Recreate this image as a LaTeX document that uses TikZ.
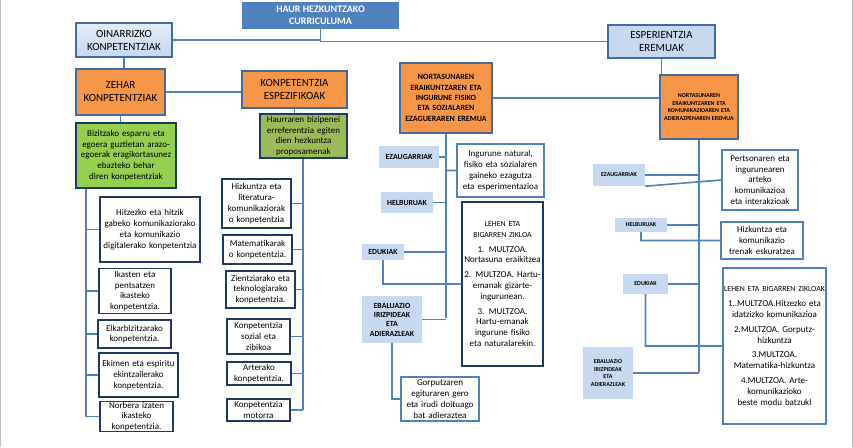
\documentclass[tikz,border=0pt]{standalone}
\usepackage{fontspec}
\setmainfont{Carlito}
\definecolor{lineblue}{HTML}{4F81BD}
\definecolor{darkbd}{HTML}{1F3864}
\definecolor{orng}{HTML}{F79646}
\definecolor{grn}{HTML}{92D050}
\definecolor{olive}{HTML}{9BBB59}
\definecolor{lblue}{HTML}{C6D9F1}
\tikzset{
  box/.style={draw=darkbd, line width=1.3pt, fill=white, align=center, inner sep=0.5pt,
    execute at begin node={\hyphenpenalty=10000\tolerance=9999},
    font=\fontsize{9}{10.8}\selectfont},
  head/.style={box, draw=lineblue!70!darkbd, font=\fontsize{11}{13}\selectfont},
  orangebox/.style={head, fill=orng},
  bluebox/.style={head, fill=lblue},
  greenbox/.style={box, fill=grn},
  lbl/.style={fill=lblue, align=center, inner sep=1pt, font=\bfseries\fontsize{7.8}{9.3}\selectfont},
  tiny/.style={font=\bfseries\fontsize{6}{7.6}\selectfont},
  wbox/.style={box, draw=lineblue},
  conn/.style={draw=lineblue, line width=1.6pt},
}
\begin{document}
\begin{tikzpicture}[x=1pt,y=-1pt]
  \useasboundingbox (0,0) rectangle (853,447);
  \draw[gray!50, line width=1pt] (0.5,0) -- (0.5,447) (852,0) -- (852,447);
  % top row
  \node[head, fill=lineblue, draw=lineblue, text=white, font=\bfseries\fontsize{10}{12}\selectfont, minimum width=155, minimum height=25] (title) at (320.5,15.5) {HAUR HEZKUNTZAKO\\CURRICULUMA};
  \node[bluebox, top color=lblue!50, bottom color=lblue, minimum width=96, minimum height=34] (oin) at (124,40) {OINARRIZKO\\KONPETENTZIAK};
  \node[bluebox, minimum width=107, minimum height=33] (esp) at (661.5,41.5) {ESPERIENTZIA\\EREMUAK};
  % left side
  \node[orangebox, minimum width=89, minimum height=46] (zehar) at (120.5,92) {ZEHAR\\KONPETENTZIAK};
  \node[orangebox, minimum width=105, minimum height=37] (konesp) at (294.5,89.5) {KONPETENTZIA\\ESPEZIFIKOAK};
  \node[greenbox, text width=99, minimum height=65] (bizi) at (126,155.5) {Bizitzako esparru eta egoera guztietan arazo-egoerak eragikortasunez ebazteko behar diren konpetentziak};
  \node[box, fill=olive, text width=86, minimum height=44] (haur) at (303.5,136) {Haurraren bizipenei erreferentzia egiten dien hezkuntza proposamenak};
  \node[box, text width=99, minimum height=65] (hitz) at (150,229.5) {Hitzezko eta hitzik gabeko komunikaziorako eta komunikazio digitalerako konpetentzia};
  \node[box, text width=71, minimum height=45] (ikas) at (135,291) {Ikasten eta pentsatzen ikasteko konpetentzia.};
  \node[box, text width=72, minimum height=28] (elk) at (134.5,334) {Elkarbizitzarako konpetentzia.};
  \node[box, text width=78, minimum height=44] (ekim) at (138.5,375) {Ekimen eta espiritu ekintzailerako konpetentzia.};
  \node[box, text width=72, minimum height=29] (norb) at (136.5,416.5) {Norbera izaten ikasteko konpetentzia.};
  \node[box, text width=68, minimum height=49] (hizk) at (256.5,203.5) {Hizkuntza eta literatura-\\komunikaziorak\\o konpetentzia};
  \node[box, text width=68, minimum height=29] (mate) at (257.5,249.5) {Matematikarak\\o konpetentzia.};
  \node[box, text width=68, minimum height=37] (zien) at (260.5,289.5) {Zientziarako eta teknologiarako konpetentzia.};
  \node[box, text width=62, minimum height=35] (konsoz) at (258.5,336.5) {Konpetentzia sozial eta zibikoa};
  \node[box, text width=63, minimum height=23] (arte) at (259,373.5) {Arterako konpetentzia.};
  \node[box, text width=62, minimum height=22] (motor) at (258.5,410) {Konpetentzia motorra};
  % middle
  \node[orangebox, font=\bfseries\fontsize{8}{10.3}\selectfont, text width=91, minimum height=70] (nort1) at (446,98) {NORTASUNAREN ERAIKUNTZAREN ETA INGURUNE FISIKO ETA SOZIALAREN EZAGUERAREN EREMUA};
  \node[lbl, minimum width=60, minimum height=22] (ezaug1) at (409,157) {EZAUGARRIAK};
  \node[wbox, text width=86, minimum height=53] (ing) at (500.5,170.5) {Ingurune natural, fisiko eta sozialaren gaineko ezagutza eta esperimentazioa};
  \node[lbl, minimum width=52, minimum height=21] (helb1) at (407,202.5) {HELBURUAK};
  \node[box, text width=80, minimum height=164] (lehen1) at (502.5,284) {{\fontsize{7.8}{10}\selectfont LEHEN ETA BIGARREN ZIKLOA}\\[4pt] 1. MULTZOA. Nortasuna eraikitzea\\[4pt] 2. MULTZOA. Hartu-emanak gizarte-\\ingurunean.\\[4pt] 3. MULTZOA. Hartu-emanak ingurune fisiko eta naturalarekin.};
  \node[lbl, minimum width=42, minimum height=16] (eduk1) at (383,252) {EDUKIAK};
  \node[lbl, minimum width=60, minimum height=47] (ebal1) at (392,319.5) {EBALUAZIO\\IRIZPIDEAK\\ETA\\ADIERAZLEAK};
  \node[wbox, text width=77, minimum height=44] (gorp) at (440,399) {Gorputzaren egituraren gero eta irudi doituago bat adieraztea};
  % right
  \node[orangebox, tiny, text width=77, minimum height=64] (nort2) at (699,107) {NORTASUNAREN ERAIKUNTZAREN ETA KOMUNIKAZIOAREN ETA ADIERAZPENAREN EREMUA};
  \node[lbl, tiny, minimum width=52, minimum height=22] (ezaug2) at (619,175) {EZAUGARRIAK};
  \node[wbox, text width=75, minimum height=60] (pert) at (760,180) {Pertsonaren eta ingurunearen arteko komunikazioa eta interakzioak};
  \node[lbl, tiny, minimum width=52, minimum height=14] (helb2) at (641,225) {HELBURUAK};
  \node[wbox, text width=81, minimum height=37] (hizk2) at (762,240.5) {Hizkuntza eta komunikazio trenak eskuratzea};
  \node[lbl, tiny, minimum width=45, minimum height=20] (eduk2) at (645.5,284) {EDUKIAK};
  \node[wbox, text width=102, minimum height=156] (lehen2) at (774.5,346) {{\fontsize{7.8}{10}\selectfont LEHEN ETA BIGARREN ZIKLOAK}\\[4pt] 1..MULTZOA.Hitzezko eta idatzizko komunikazioa\\[4pt] 2.MULTZOA. Gorputz-\\hizkuntza\\[4pt] 3.MULTZOA. Matematika-hizkuntza\\[4pt] 4.MULTZOA. Arte-\\komunikazioko beste modu batzukl};
  \node[lbl, tiny, minimum width=50, minimum height=52] (ebal2) at (608,373) {EBALUAZIO\\IRIZPIDEAK\\ETA\\ADIERAZLEAK};
  % spines
  \coordinate (lspine) at (86,417);
  \coordinate (rspine) at (303,410);
  \coordinate (mspine) at (446,318);
  \coordinate (sspine) at (699,372);
  % connectors
  \path[conn] (title.south) |- (esp.west)
    (oin.east) -- (title.south |- oin.east)
    (oin.south) -- (oin.south |- zehar.north)
    (zehar.east) -- (zehar.east -| konesp.west)
    (zehar.south) -- (zehar.south |- bizi.north)
    (konesp.south) -- (konesp.south |- haur.north)
    (bizi.south -| lspine) -- (lspine)
    (haur.south -| rspine) -- (rspine)
    (nort1.south) -- (mspine)
    (nort1.east) -- (nort1.east -| nort2.west)
    (esp.south) -- (esp.south |- nort2.north)
    (nort2.south) -- (sspine);
  \foreach \n in {hitz,ikas,elk,ekim,norb}
    \path[conn] (lspine |- \n) -- (\n.west);
  \foreach \n in {hizk,mate,zien,konsoz,arte,motor}
    \path[conn] (\n.east) -- (rspine |- \n);
  \foreach \n in {ezaug1,helb1,eduk1,ebal1}
    \path[conn] (\n.east) -- (mspine |- \n);
  \foreach \n in {ezaug2,helb2,eduk2,ebal2}
    \path[conn] (\n.east) -- (sspine |- \n);
  \path[conn] (ing.west) -- (ing.west -| mspine)
    (eduk1.south) |- (lehen1.west)
    (ebal1.south) |- (gorp.west)
    (ezaug2.south east) -- (pert.west)
    (helb2.south) |- (hizk2.west)
    (eduk2.south) |- (lehen2.west);
\end{tikzpicture}
\end{document}
